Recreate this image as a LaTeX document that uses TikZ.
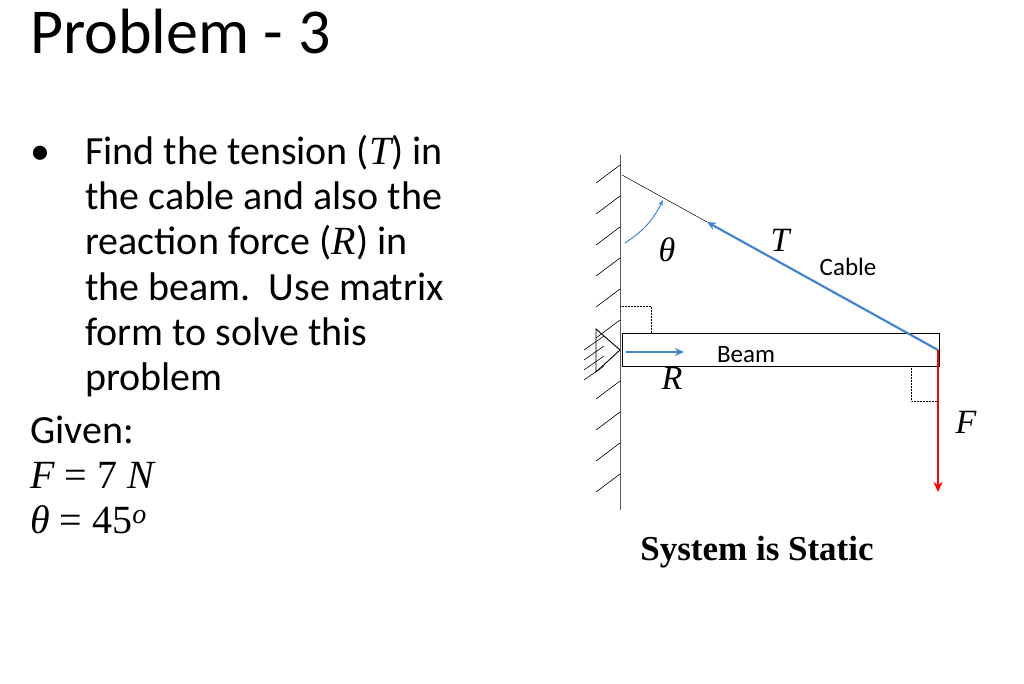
\documentclass[tikz,border=0pt]{standalone}
\usepackage{fontspec}
\setmainfont{Carlito}
\newfontfamily\sysfont{Liberation Serif}
\newcommand{\mvar}[1]{{\sysfont\itshape #1}}
\usetikzlibrary{arrows.meta}
\definecolor{arrblue}{RGB}{68,132,206}
\begin{document}
\begin{tikzpicture}[x=1pt,y=-1pt,
  body/.style={anchor=base west,font=\fontsize{40}{48}\selectfont,inner sep=0},
  hatch/.style={line width=0.6pt},
  blue arrow/.style={draw=arrblue,line width=2.2pt,-{Stealth[length=9pt,width=8pt]}},
  lab/.style={font=\sysfont\itshape\fontsize{34}{40}\selectfont,inner sep=0}]
\useasboundingbox (0,0) rectangle (1024,684);
\node[body,font=\fontsize{64}{70}\selectfont] (title) at (30,54) {Problem - 3};
\node[body] (bul) at (30,165) {•};
\node[body] (l1) at (85,165) {Find the tension (\mvar{T}) in};
\node[body] (l2) at (85,210) {the cable and also the};
\node[body] (l3) at (85,255) {reaction force (\mvar{R}) in};
\node[body] (l4) at (85,300) {the beam.\ \ Use matrix};
\node[body] (l5) at (85,345) {form to solve this};
\node[body] (l6) at (85,390) {problem};
\node[body] (g) at (30,443) {Given:};
\node[body] (g1) at (30,488) {{\sysfont\mvar{F} = 7 \mvar{N}}};
\node[body] (g2) at (30,533) {{\sysfont\mvar{θ} = 45\textsuperscript{\mvar{o}}}};
% wall
\draw[line width=0.8pt,gray!70!black] (620,155) coordinate (wt) -- (620,510) coordinate (wb);
\foreach \y in {165,196,227,258,289,320,381,412,443,474}
  \draw[hatch] (596,\y+18) -- (620,\y);
\foreach \y in {336,346,356,366}
  \draw[hatch] (584,\y+14) -- (604,\y);
% support triangle
\draw[line width=0.9pt] (596,329) coordinate (s1) -- (620,350) coordinate (s2) -- (596,372) coordinate (s3) -- cycle;
% beam
\draw[line width=0.9pt] (622,333) rectangle (939,366);
\coordinate (tip) at (938,350);
\coordinate (ctop) at (622,175);
\coordinate (cmid) at (707,222);
\draw[line width=0.5pt] (ctop) -- (cmid);
\draw[blue arrow] (tip) -- (cmid);
\draw[draw=red,line width=2.2pt,-{Stealth[length=10pt,width=9pt]}] (tip) -- (938,492) coordinate (fend);
\coordinate (r0) at (626,352); \coordinate (r1) at (684,352);
\draw[blue arrow,line width=1.8pt] (r0) -- (r1);
\draw[arrblue,line width=1pt,-{Stealth[length=6pt]}] (625,243) to[bend right=15] (663,200);
\draw[densely dotted,line width=0.5pt] (620,306) -- (651,306) -- (651,333);
\draw[densely dotted,line width=0.5pt] (911,366) -- (911,401) -- (938,401);
\node[lab] (th) at (667,250) {θ};
\node[lab] (T) at (780,240) {T};
\node[lab] (R) at (672,378) {R};
\node[lab] (F) at (966,422) {F};
\node[font=\fontsize{25}{28}\selectfont,inner sep=0] (cable) at (848,267) {Cable};
\node[font=\fontsize{25}{28}\selectfont,inner sep=0] (beam) at (746,355) {Beam};
\node[font=\sysfont\bfseries\fontsize{35}{38}\selectfont,inner sep=0] (sys) at (757,552) {System is Static};
\end{tikzpicture}
\end{document}
